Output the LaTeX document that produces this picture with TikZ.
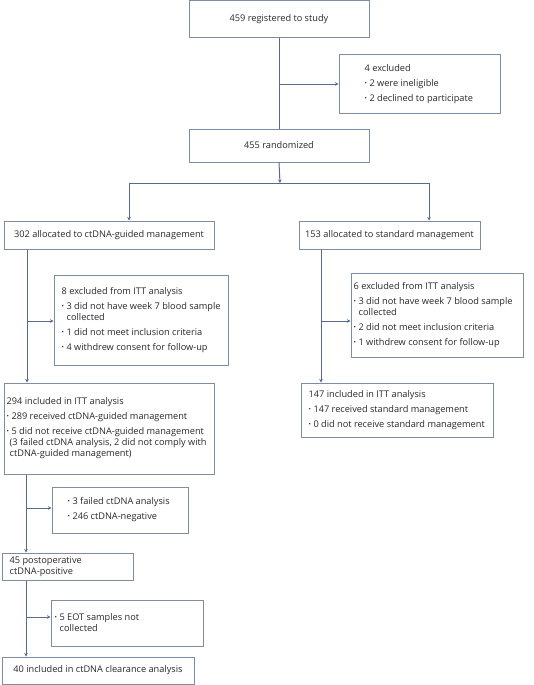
\documentclass[tikz,border=0pt]{standalone}
\usepackage{fontspec}
\setmainfont{Open Sans}
\usetikzlibrary{arrows.meta}
\definecolor{boxcol}{RGB}{128,140,162}
\definecolor{linecol}{RGB}{88,106,140}
\definecolor{txtcol}{RGB}{40,40,45}
\newcommand{\bul}{\raisebox{0.2ex}{\scalebox{0.7}{\textbullet}}\ }
\begin{document}
\begin{tikzpicture}[x=1pt,y=-1pt,
  every node/.style={font=\fontsize{9.2}{11}\selectfont, text=txtcol},
  bx/.style n args={2}{draw=boxcol, line width=1pt, rectangle, inner sep=0pt,
     minimum width=#1, minimum height=#2},
  txt/.style={anchor=west, inner sep=0pt, align=left},
  conn/.style={draw=linecol, line width=1pt},
  arr/.style={conn, -{Stealth[length=3.5pt,width=3.5pt]}}]
\useasboundingbox (0,0) rectangle (534,685);
\node[bx={180pt}{37pt}] (reg) at (279,18.9) {459 registered to study};
\node[bx={161pt}{58pt}] (excl) at (419.5,84) {};
\node[txt] (excl-t) at ([xshift=26pt]excl.west) {4 excluded\\[4pt]\bul 2 were ineligible\\[4pt]\bul 2 declined to participate};
\node[bx={180pt}{33pt}] (rand) at (279,145.5) {455 randomized};
\node[bx={210pt}{28pt}] (g) at (109,235) {302 allocated to ctDNA-guided management};
\node[bx={181pt}{28pt}] (s) at (389.5,235) {153 allocated to standard management};
\node[bx={174pt}{90pt}] (ge) at (141,320) {};
\node[txt] (ge-t) at ([xshift=8pt]ge.west) {8 excluded from ITT analysis\\[4pt]\bul 3 did not have week 7 blood sample\\\hspace*{5pt}collected\\[4pt]\bul 1 did not meet inclusion criteria\\[4pt]\bul 4 withdrew consent for follow-up};
\node[bx={172pt}{84pt}] (se) at (437,315) {};
\node[txt] (se-t) at ([xshift=3pt]se.west) {6 excluded from ITT analysis\\[4pt]\bul 3 did not have week 7 blood sample\\\hspace*{5pt}collected\\[4pt]\bul 2 did not meet inclusion criteria\\[4pt]\bul 1 withdrew consent for follow-up};
\node[bx={210pt}{91pt}] (gi) at (109,428.5) {};
\node[txt] (gi-t) at ([xshift=3pt]gi.west) {294 included in ITT analysis\\[4pt]\bul 289 received ctDNA-guided management\\[4pt]\bul 5 did not receive ctDNA-guided management\\\hspace*{3pt}(3 failed ctDNA analysis, 2 did not comply with\\\hspace*{3pt}ctDNA-guided management)};
\node[bx={192pt}{54pt}] (si) at (397,410) {};
\node[txt] (si-t) at ([xshift=8pt]si.west) {147 included in ITT analysis\\[4pt]\bul 147 received standard management\\[4pt]\bul 0 did not receive standard management};
\node[bx={136pt}{46pt}] (f) at (120,510) {};
\node[txt] (f-t) at ([xshift=16pt]f.west) {\bul 3 failed ctDNA analysis\\[4pt]\bul 246 ctDNA-negative};
\node[bx={131pt}{27pt}] (p) at (67.5,566.5) {};
\node[txt] (p-t) at ([xshift=8pt]p.west) {45 postoperative\\ctDNA-positive};
\node[bx={152pt}{46pt}] (eot) at (127,623) {};
\node[txt] (eot-t) at ([xshift=4pt]eot.west) {\bul 5 EOT samples not\\\hspace*{5pt}collected};
\node[bx={192pt}{27pt}] (c) at (98,670.5) {40 included in ctDNA clearance analysis};
% connectors
\coordinate (b1) at (280,84);
\coordinate (j2) at (280,183);
\coordinate (lg) at (129,183);
\coordinate (ls) at (429,183);
\draw[conn] (reg.south) -- (rand.north);
\draw[arr] (b1) -- (excl.west);
\draw[arr] (rand.south) -- (j2);
\draw[conn] (lg) -- (ls);
\draw[arr] (lg) -- (lg |- g.north);
\draw[arr] (ls) -- (ls |- s.north);
\coordinate (gx) at (27,249);
\coordinate (gb) at (27,321);
\draw[arr] (gx |- g.south) -- (gx |- gi.north);
\draw[arr] (gb) -- (gb -| ge.west);
\coordinate (sx) at (321,249);
\coordinate (sb) at (321,321);
\draw[arr] (sx |- s.south) -- (sx |- si.north);
\draw[arr] (sb) -- (sb -| se.west);
\coordinate (ix) at (26,474);
\coordinate (ib) at (26,508);
\draw[arr] (ix |- gi.south) -- (ix |- p.north);
\draw[arr] (ib) -- (ib -| f.west);
\coordinate (px) at (26,580);
\coordinate (pb) at (26,617);
\draw[arr] (px |- p.south) -- (px |- c.north);
\draw[arr] (pb) -- (pb -| eot.west);
\end{tikzpicture}
\end{document}
